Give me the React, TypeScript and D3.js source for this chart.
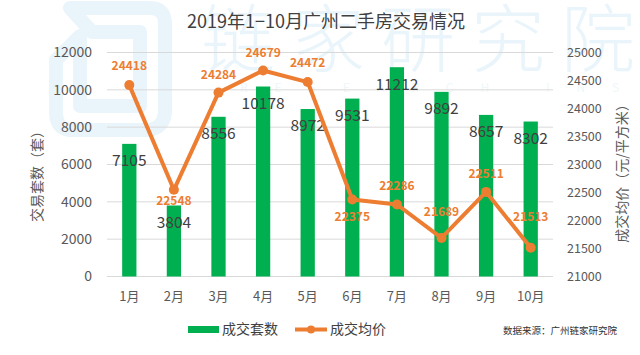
import React from "react";
import * as d3 from "d3";

const months = ["1月", "2月", "3月", "4月", "5月", "6月", "7月", "8月", "9月", "10月"];
const volumes = [7105, 3804, 8556, 10178, 8972, 9531, 11212, 9892, 8657, 8302];
const prices = [24418, 22548, 24284, 24679, 24472, 22375, 22286, 21689, 22511, 21513];
const leftTicks = [0, 2000, 4000, 6000, 8000, 10000, 12000];
const rightTicks = [21000, 21500, 22000, 22500, 23000, 23500, 24000, 24500, 25000];
// label offset (px) relative to the point, layout only
const priceLabelDy = [-19, 11, -18, -18, -19, 17, -19, -26, -18, -31];

const W = 640, H = 355;
const X0 = 107, X1 = 553, Y0 = 276.5, Y1 = 52.5;
const GREEN = "#00B050";
const ORANGE = "#ED7D31";
const FONT = "'Microsoft YaHei', 'Noto Sans CJK SC', 'Open Sans', sans-serif";

export default function App() {
  const x = d3.scaleBand<string>().domain(months).range([X0, X1]).paddingInner(0.68).paddingOuter(0.34);
  const yL = d3.scaleLinear().domain([0, 12000]).range([Y0, Y1]);
  const yR = d3.scaleLinear().domain([21000, 25000]).range([Y0, Y1]);
  const cx = (m: string) => (x(m) as number) + x.bandwidth() / 2;
  const line = d3.line<number>().x((_, i) => cx(months[i])).y((d) => yR(d));

  const wm = ["链", "家", "研", "究", "院"];
  return (
    <svg width={W} height={H} style={{ position: "absolute", left: 0, top: 0, fontFamily: FONT }}>
      <rect width={W} height={H} fill="#fff" />
      {/* watermark */}
      <g fill="#e9f5fb">
        <path d="M70,8 L150,8 Q165,8 165,24 L165,110 Q165,128 148,130 L72,130 Q56,130 56,112 L56,60 L80,36 L80,106 L140,106 L140,32 L92,32 Z" fill="none" stroke="#e9f5fb" strokeWidth={14} strokeLinejoin="round" />
        {wm.map((c, i) => (
          <text key={c} x={238 + i * 90} y={66} fontSize={74} textAnchor="middle" fontFamily="'Noto Sans CJK SC', sans-serif" fontWeight={300}>{c}</text>
        ))}
        <text x={240} y={92} fontSize={12} letterSpacing={27} fill="#f0f7fb">RESEARCH INSTITUTE</text>
      </g>
      <text x={326} y={28} textAnchor="middle" fontSize={18} fill="#404040">2019年1−10月广州二手房交易情况</text>
      {/* grid */}
      {leftTicks.map((t) => (
        <line key={t} x1={X0} x2={X1} y1={yL(t)} y2={yL(t)} stroke="#d9d9d9" strokeWidth={1} />
      ))}
      {leftTicks.map((t) => (
        <text key={t} x={92} y={yL(t)} dy="0.35em" textAnchor="end" fontSize={14} fill="#595959">{t}</text>
      ))}
      {rightTicks.map((t) => (
        <text key={t} x={567} y={yR(t)} dy="0.35em" textAnchor="start" fontSize={12.5} fill="#595959">{t}</text>
      ))}
      <text transform={`translate(37,173) rotate(-90)`} textAnchor="middle" dy="0.35em" fontSize={14} fill="#595959">交易套数（套）</text>
      <text transform={`translate(622,170) rotate(-90)`} textAnchor="middle" dy="0.35em" fontSize={14} fill="#595959">成交均价（元/平方米）</text>
      {/* bars */}
      {volumes.map((v, i) => (
        <rect key={i} x={x(months[i])} y={yL(v)} width={x.bandwidth()} height={Y0 - yL(v)} fill={GREEN} />
      ))}
      {volumes.map((v, i) => (
        <text key={i} x={cx(months[i])} y={yL(v) + 17} dy="0.35em" textAnchor="middle" fontSize={15.5} fill="#404040">{v}</text>
      ))}
      {months.map((m) => (
        <text key={m} x={cx(m)} y={296} dy="0.35em" textAnchor="middle" fontSize={13} fill="#595959">{m}</text>
      ))}
      {/* line */}
      <path d={line(prices) || ""} fill="none" stroke={ORANGE} strokeWidth={4} strokeLinejoin="round" />
      {prices.map((p, i) => (
        <circle key={i} cx={cx(months[i])} cy={yR(p)} r={5} fill={ORANGE} />
      ))}
      {prices.map((p, i) => (
        <text key={i} x={cx(months[i])} y={yR(p) + priceLabelDy[i]} dy="0.35em" textAnchor="middle" fontSize={12} fontWeight="bold" fill={ORANGE}>{p}</text>
      ))}
      {/* legend */}
      <rect x={188} y={326} width={31} height={7} fill={GREEN} />
      <text x={222} y={329.5} dy="0.35em" fontSize={14} fill="#404040">成交套数</text>
      <line x1={295} x2={327} y1={329.5} y2={329.5} stroke={ORANGE} strokeWidth={4} />
      <circle cx={311} cy={329.5} r={4} fill={ORANGE} />
      <text x={330} y={329.5} dy="0.35em" fontSize={14} fill="#404040">成交均价</text>
      <text x={617} y={331} dy="0.35em" textAnchor="end" fontSize={9.5} fill="#333">数据来源：广州链家研究院</text>
    </svg>
  );
}
